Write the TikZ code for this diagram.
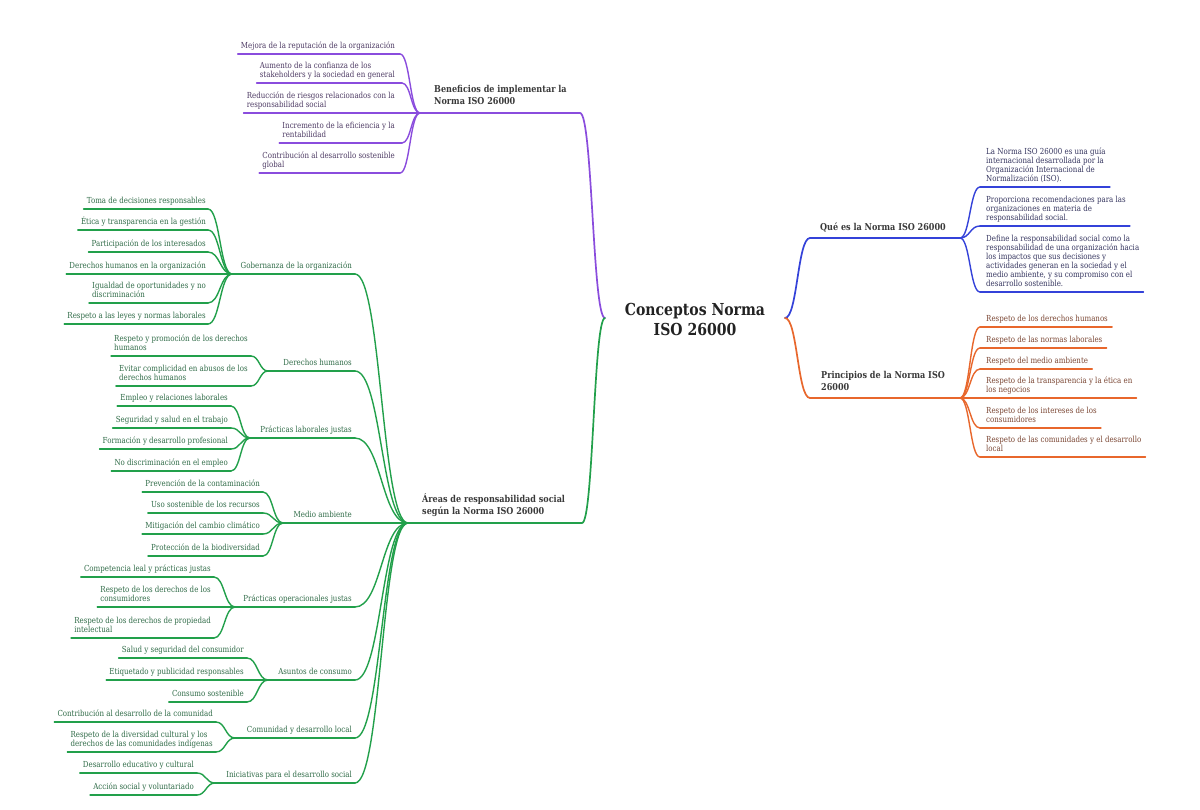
\documentclass[tikz,border=0pt]{standalone}
\usepackage{fontspec}
\setmainfont{DejaVu Serif}[FakeStretch=0.85]
\usetikzlibrary{calc}
\definecolor{Pline}{HTML}{8A4CDD}\definecolor{Ptext}{HTML}{4D3A63}
\definecolor{Gline}{HTML}{22A04B}\definecolor{Gtext}{HTML}{2F6B47}
\definecolor{Bline}{HTML}{3442D9}\definecolor{Btext}{HTML}{34345E}
\definecolor{Oline}{HTML}{E8672C}\definecolor{Otext}{HTML}{7A4532}
\definecolor{darkt}{HTML}{3A3A3A}\definecolor{roott}{HTML}{222222}
\tikzset{
  leaf/.style={inner sep=0pt, align=left, font=\fontsize{8.3}{9}\selectfont, execute at end node={\rule[-2.2pt]{0pt}{0pt}}},
  lvone/.style={inner sep=0pt, align=left, text=darkt, font=\fontsize{9.5}{12}\selectfont\bfseries, execute at end node={\rule[-2.5pt]{0pt}{0pt}}},
  rootnode/.style={inner sep=0pt, align=center, text=roott, font=\fontsize{16.5}{20}\selectfont\bfseries},
  ln/.style={line width=1.4pt, line cap=round},
  lnone/.style={line width=1.7pt, line cap=round},
  Pt/.style={text=Ptext}, Pl/.style={draw=Pline},
  Gt/.style={text=Gtext}, Gl/.style={draw=Gline},
  Bt/.style={text=Btext}, Bl/.style={draw=Bline},
  Ot/.style={text=Otext}, Ol/.style={draw=Oline},
}
% S-shaped connector between two named points
\newcommand\sconn[3]{\draw[#1] let \p1=(#2), \p2=(#3) in (\p1) .. controls ({(\x1+\x2)/2},\y1) and ({(\x1+\x2)/2},\y2) .. (\p2);}
% left-side leaf: branch, name, text right x, underline y, underline right x, text
\newcommand\lleaf[6]{%
  \node[leaf,#1t,anchor=south east] (#2) at (#3,#4-3) {#6};
  \coordinate (#2-e) at (#5,#4);
  \draw[ln,#1l] ($(#2.south west)+(-3,3)$) -- (#2-e);}
% right-side leaf: branch, name, underline left x, underline y, text
\newcommand\rleaf[5]{%
  \node[leaf,#1t,anchor=south west] (#2) at (#3+6,#4-3) {#5};
  \coordinate (#2-w) at (#3,#4);
  \draw[ln,#1l] (#2-w) -- ($(#2.south east)+(4,3)$);}
% green second-level node: name, junction x, underline y, text
\newcommand\gpar[4]{%
  \node[leaf,Gt,anchor=south east] (#1) at (352,#3-3) {#4};
  \coordinate (#1-j) at (#2,#3);
  \coordinate (#1-e) at (355,#3);
  \draw[ln,Gl] (#1-j) -- (#1-e);}
\begin{document}
\begin{tikzpicture}[x=1pt,y=-1pt]
\useasboundingbox[fill=white] (0,0) rectangle (1200,809);

% root
\node[rootnode] (root) at (695,319) {Conceptos Norma\\ISO 26000};
\coordinate (rootL) at (605,318);
\coordinate (rootR) at (785,318);

% ---------- first level ----------
\node[lvone,anchor=south west] (ben) at (434,113-5.5) {Beneficios de implementar la\\Norma ISO 26000};
\coordinate (ben-j) at (420,113); \coordinate (ben-e) at (580,113);
\draw[lnone,Pl] (ben-j) -- (ben-e);
\sconn{lnone,Pl}{ben-e}{rootL}

\node[lvone,anchor=south west] (are) at (422,523-5.5) {Áreas de responsabilidad social\\según la Norma ISO 26000};
\coordinate (are-j) at (408,523); \coordinate (are-e) at (582,523);
\draw[lnone,Gl] (are-j) -- (are-e);
\sconn{lnone,Gl}{are-e}{rootL}

\node[lvone,anchor=south west] (que) at (820,238-4.5) {Qué es la Norma ISO 26000};
\coordinate (que-j) at (960,238); \coordinate (que-w) at (810,238);
\draw[lnone,Bl] (que-w) -- (que-j);
\sconn{lnone,Bl}{que-w}{rootR}

\node[lvone,anchor=south west] (pri) at (821,398-5) {Principios de la Norma ISO\\26000};
\coordinate (pri-j) at (960,398); \coordinate (pri-w) at (810,398);
\draw[lnone,Ol] (pri-w) -- (pri-j);
\sconn{lnone,Ol}{pri-w}{rootR}

% ---------- purple ----------
\lleaf{P}{p1}{395}{54}{400}{Mejora de la reputación de la organización}
\lleaf{P}{p2}{395}{83}{402}{Aumento de la confianza de los\\stakeholders y la sociedad en general}
\lleaf{P}{p3}{395}{113}{420}{Reducción de riesgos relacionados con la\\responsabilidad social}
\lleaf{P}{p4}{395}{143}{402}{Incremento de la eficiencia y la\\rentabilidad}
\lleaf{P}{p5}{395}{173}{400}{Contribución al desarrollo sostenible\\global}
\foreach \c in {p1,p2,p4,p5}{\sconn{ln,Pl}{\c-e}{ben-j}}

% ---------- green second level ----------
\gpar{g1}{232}{274}{Gobernanza de la organización}
\gpar{g2}{268}{371}{Derechos humanos}
\gpar{g3}{250}{438}{Prácticas laborales justas}
\gpar{g4}{283}{523}{Medio ambiente}
\gpar{g5}{235}{607}{Prácticas operacionales justas}
\gpar{g6}{268}{680}{Asuntos de consumo}
\gpar{g7}{235}{738}{Comunidad y desarrollo local}
\gpar{g8}{215}{783}{Iniciativas para el desarrollo social}
\foreach \c in {g1,g2,g3,g4,g5,g6,g7,g8}{\sconn{ln,Gl}{\c-e}{are-j}}

% Gobernanza
\lleaf{G}{ga1}{206}{209}{208}{Toma de decisiones responsables}
\lleaf{G}{ga2}{206}{230}{208}{Ética y transparencia en la gestión}
\lleaf{G}{ga3}{206}{252}{208}{Participación de los interesados}
\lleaf{G}{ga4}{206}{274}{232}{Derechos humanos en la organización}
\lleaf{G}{ga5}{206}{303}{208}{Igualdad de oportunidades y no\\discriminación}
\lleaf{G}{ga6}{206}{324}{208}{Respeto a las leyes y normas laborales}
\foreach \c in {ga1,ga2,ga3,ga5,ga6}{\sconn{ln,Gl}{\c-e}{g1-j}}
% Derechos humanos
\lleaf{G}{gb1}{248}{356}{251}{Respeto y promoción de los derechos\\humanos}
\lleaf{G}{gb2}{248}{386}{251}{Evitar complicidad en abusos de los\\derechos humanos}
\foreach \c in {gb1,gb2}{\sconn{ln,Gl}{\c-e}{g2-j}}
% Practicas laborales
\lleaf{G}{gc1}{228}{406}{231}{Empleo y relaciones laborales}
\lleaf{G}{gc2}{228}{428}{231}{Seguridad y salud en el trabajo}
\lleaf{G}{gc3}{228}{449}{231}{Formación y desarrollo profesional}
\lleaf{G}{gc4}{228}{471}{231}{No discriminación en el empleo}
\foreach \c in {gc1,gc2,gc3,gc4}{\sconn{ln,Gl}{\c-e}{g3-j}}
% Medio ambiente
\lleaf{G}{gd1}{260}{492}{263}{Prevención de la contaminación}
\lleaf{G}{gd2}{260}{513}{263}{Uso sostenible de los recursos}
\lleaf{G}{gd3}{260}{534}{263}{Mitigación del cambio climático}
\lleaf{G}{gd4}{260}{556}{263}{Protección de la biodiversidad}
\foreach \c in {gd1,gd2,gd3,gd4}{\sconn{ln,Gl}{\c-e}{g4-j}}
% Practicas operacionales
\lleaf{G}{ge1}{211}{577}{214}{Competencia leal y prácticas justas}
\lleaf{G}{ge2}{211}{607}{235}{Respeto de los derechos de los\\consumidores}
\lleaf{G}{ge3}{211}{638}{214}{Respeto de los derechos de propiedad\\intelectual}
\foreach \c in {ge1,ge3}{\sconn{ln,Gl}{\c-e}{g5-j}}
% Asuntos de consumo
\lleaf{G}{gf1}{244}{658}{247}{Salud y seguridad del consumidor}
\lleaf{G}{gf2}{244}{680}{268}{Etiquetado y publicidad responsables}
\lleaf{G}{gf3}{244}{702}{247}{Consumo sostenible}
\foreach \c in {gf1,gf3}{\sconn{ln,Gl}{\c-e}{g6-j}}
% Comunidad
\lleaf{G}{gg1}{213}{722}{216}{Contribución al desarrollo de la comunidad}
\lleaf{G}{gg2}{213}{752}{216}{Respeto de la diversidad cultural y los\\derechos de las comunidades indígenas}
\foreach \c in {gg1,gg2}{\sconn{ln,Gl}{\c-e}{g7-j}}
% Iniciativas
\lleaf{G}{gh1}{194}{773}{197}{Desarrollo educativo y cultural}
\lleaf{G}{gh2}{194}{795}{197}{Acción social y voluntariado}
\foreach \c in {gh1,gh2}{\sconn{ln,Gl}{\c-e}{g8-j}}

% ---------- blue ----------
\rleaf{B}{b1}{980}{187}{La Norma ISO 26000 es una guía\\internacional desarrollada por la\\Organización Internacional de\\Normalización (ISO).}
\rleaf{B}{b2}{980}{226}{Proporciona recomendaciones para las\\organizaciones en materia de\\responsabilidad social.}
\rleaf{B}{b3}{980}{292}{Define la responsabilidad social como la\\responsabilidad de una organización hacia\\los impactos que sus decisiones y\\actividades generan en la sociedad y el\\medio ambiente, y su compromiso con el\\desarrollo sostenible.}
\foreach \c in {b1,b2,b3}{\sconn{ln,Bl}{que-j}{\c-w}}

% ---------- orange ----------
\rleaf{O}{o1}{980}{327}{Respeto de los derechos humanos}
\rleaf{O}{o2}{980}{348}{Respeto de las normas laborales}
\rleaf{O}{o3}{980}{369}{Respeto del medio ambiente}
\rleaf{O}{o4}{980}{398}{Respeto de la transparencia y la ética en\\los negocios}
\rleaf{O}{o5}{980}{428}{Respeto de los intereses de los\\consumidores}
\rleaf{O}{o6}{980}{457}{Respeto de las comunidades y el desarrollo\\local}
\foreach \c in {o1,o2,o3,o4,o5,o6}{\sconn{ln,Ol}{pri-j}{\c-w}}
\end{tikzpicture}
\end{document}
